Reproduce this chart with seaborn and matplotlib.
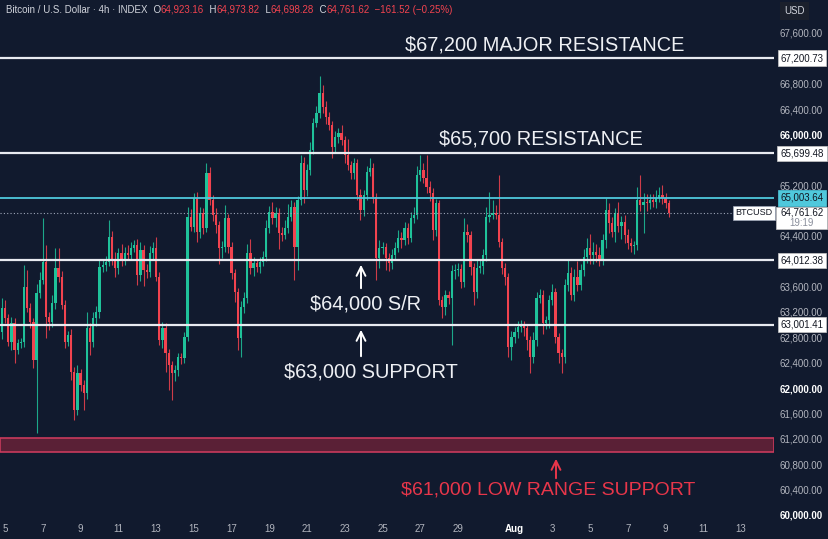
import matplotlib
matplotlib.use("Agg")
import matplotlib.pyplot as plt
import matplotlib.dates as mdates
from matplotlib.patches import Rectangle
from matplotlib.transforms import IdentityTransform
import seaborn as sns
import numpy as np
import pandas as pd

# BTCUSD 4h candles, Jul 4 20:00 -> Aug 9 04:00
first_open = 62880
closes = [
    63263, 63105, 62727, 63026, 62600, 62711, 62727, 63594, 63263, 63042,
    62443, 63499, 63704, 63988, 63121, 63042, 63342, 63894, 63752, 63310,
    62727, 62837, 62254, 61654, 62238, 62049, 61922, 62947, 62727, 63105,
    63200, 63909, 63941, 63988, 64383, 64020, 63894, 64130, 64020, 64130,
    64099, 64209, 64256, 63783, 64178, 63862, 63831, 64130, 64209, 63752,
    62758, 62947, 62553, 62364, 62238, 62285, 62490, 62474, 62805, 64698,
    64540, 64998, 64461, 64761, 64524, 65392, 64966, 64729, 64572, 64209,
    64225, 64682, 64225, 63815, 63515, 62790, 63279, 63421, 64130, 63894,
    63972, 63909, 63988, 64067, 64524, 64777, 64682, 64761, 64446, 64414,
    64524, 64698, 64856, 64225, 64966, 65550, 65124, 65439, 65755, 66180,
    66338, 66653, 66433, 66275, 66149, 65802, 65960, 66023, 65912, 65676,
    65518, 65392, 65550, 65045, 64808, 65045, 65408, 65471, 65013, 64051,
    64209, 64225, 64051, 63972, 64099, 64209, 64367, 64335, 64524, 64367,
    64682, 64729, 65360, 65439, 65313, 65171, 65076, 64493, 64919, 63389,
    63279, 63468, 63421, 63846, 63862, 63880, 63673, 64461, 64414, 63909,
    63515, 63894, 63925, 64099, 64698, 64729, 64761, 64729, 64304, 63894,
    63752, 62648, 62805, 62884, 62963, 62995, 62947, 62758, 62490, 62758,
    63421, 63468, 63026, 63074, 63389, 63515, 62805, 62553, 62490, 63626,
    63815, 63468, 63752, 63626, 63862, 64067, 64209, 64099, 64146, 64099,
    64020, 64335, 64808, 64603, 64461, 64761, 64556, 64619, 64414, 64288,
    64241, 64256, 64966, 64887, 64934, 64919, 64966, 64934, 64998, 65045,
    64998, 64923.16, 64761.62,
]
wick_up = [
    160, 120, 60, 100, 80, 60, 60, 350, 270, 80,
    60, 150, 120, 690, 270, 80, 120, 320, 320, 100,
    80, 60, 90, 80, 120, 60, 80, 250, 80, 90,
    100, 120, 80, 90, 270, 100, 120, 80, 150, 100,
    120, 100, 80, 100, 120, 80, 90, 110, 100, 170,
    80, 100, 80, 60, 60, 80, 70, 60, 80, 150,
    120, 80, 90, 100, 80, 160, 100, 80, 110, 60,
    90, 200, 60, 80, 70, 60, 90, 100, 150, 220,
    90, 60, 80, 100, 120, 90, 150, 100, 80, 100,
    120, 200, 110, 80, 60, 120, 100, 90, 120, 80,
    110, 270, 120, 100, 80, 60, 100, 80, 120, 60,
    250, 60, 80, 60, 100, 80, 100, 150, 80, 60,
    120, 80, 60, 80, 90, 100, 120, 90, 100, 80,
    90, 120, 150, 240, 110, 360, 100, 80, 60, 50,
    60, 80, 60, 100, 90, 100, 80, 220, 120, 60,
    60, 120, 100, 90, 150, 360, 200, 120, 630, 60,
    80, 70, 100, 80, 90, 80, 60, 70, 60, 120,
    90, 100, 80, 60, 80, 130, 60, 60, 60, 100,
    200, 90, 120, 250, 100, 120, 150, 220, 150, 120,
    130, 90, 190, 110, 100, 80, 170, 100, 110, 90,
    80, 60, 200, 400, 150, 120, 90, 100, 120, 130,
    160, 80, 50,
]
wick_dn = [
    100, 80, 60, 120, 200, 70, 80, 80, 60, 100,
    120, 1150, 80, 60, 330, 130, 80, 90, 80, 60,
    100, 70, 130, 160, 80, 100, 270, 90, 200, 80,
    120, 100, 80, 90, 70, 80, 150, 100, 90, 80,
    80, 60, 70, 160, 90, 250, 90, 80, 100, 60,
    80, 120, 300, 400, 430, 120, 90, 100, 80, 70,
    60, 80, 150, 90, 100, 60, 80, 90, 120, 250,
    150, 80, 90, 100, 150, 190, 300, 100, 80, 100,
    120, 80, 100, 70, 60, 80, 90, 140, 250, 90,
    70, 80, 60, 520, 360, 80, 200, 100, 80, 70,
    60, 80, 100, 110, 80, 180, 90, 100, 80, 120,
    80, 90, 100, 80, 160, 90, 80, 60, 100, 350,
    150, 90, 190, 120, 90, 80, 60, 120, 80, 90,
    70, 80, 60, 90, 80, 90, 120, 150, 100, 80,
    180, 120, 90, 740, 120, 100, 90, 80, 110, 120,
    200, 90, 80, 120, 90, 80, 70, 60, 80, 90,
    120, 160, 200, 100, 90, 80, 120, 150, 250, 90,
    100, 80, 180, 90, 120, 80, 100, 160, 250, 100,
    90, 80, 100, 90, 80, 90, 100, 150, 140, 110,
    100, 80, 120, 150, 80, 150, 100, 200, 120, 100,
    90, 120, 80, 100, 440, 120, 90, 80, 90, 60,
    90, 80, 63,
]

level_prices = [67200.73, 65699.48, 64012.38, 63001.41]
ema_price = 65003.64
last_price = 64761.62
zone_low, zone_high = 60990, 61215

price_ticks = [60000, 60400, 60800, 61200, 61600, 62000, 62400, 62800, 63200, 63600,
               64000, 64400, 64800, 65200, 65600, 66000, 66400, 66800, 67200, 67600]
hidden_ticks = [64000, 64800, 65600, 67200]   # sit under the level labels
bold_ticks = [60000, 62000, 66000]
day_ticks = ["2024-07-05", "2024-07-07", "2024-07-09", "2024-07-11", "2024-07-13",
             "2024-07-15", "2024-07-17", "2024-07-19", "2024-07-21", "2024-07-23",
             "2024-07-25", "2024-07-27", "2024-07-29", "2024-08-01", "2024-08-03",
             "2024-08-05", "2024-08-07", "2024-08-09", "2024-08-11", "2024-08-13"]
day_labels = ["5", "7", "9", "11", "13", "15", "17", "19", "21", "23", "25", "27", "29",
              "Aug", "3", "5", "7", "9", "11", "13"]

BG = "#111a2e"
UP = "#1fc29a"
DOWN = "#f2434f"
TICK = "#b2b5be"

sns.set_theme(style="dark", rc={"axes.facecolor": BG, "figure.facecolor": BG})
plt.rcParams["font.family"] = ["Liberation Sans", "DejaVu Sans"]

W, H = 829, 539
fig = plt.figure(figsize=(W / 100, H / 100), dpi=100)
ax = fig.add_axes([0, 22 / H, 774 / W, 517 / H])
ax.set_facecolor(BG)
for s in ax.spines.values():
    s.set_visible(False)
ax.grid(False)

c = np.array(closes, dtype=float)
o = np.concatenate([[first_open], c[:-1]])
hi = np.maximum(o, c) + np.array(wick_up)
lo = np.minimum(o, c) - np.array(wick_dn)
times = pd.date_range("2024-07-04 20:00", periods=len(c), freq="4h")
x = mdates.date2num(times)
cols = np.where(c >= o, UP, DOWN)

ax.vlines(x, lo, hi, colors=cols, linewidth=0.8, alpha=0.85, zorder=2)
ax.bar(x, np.maximum(np.abs(c - o), 12), bottom=np.minimum(o, c), width=0.72 / 6,
       color=cols, linewidth=0, zorder=2.2)

ax.set_xlim(x[0] - 0.64 / 6, x[0] + 245.5 / 6)
ax.set_ylim(59967, 68120)

# levels
ax.axhspan(zone_low, zone_high, facecolor="#5a2036", edgecolor="#c83a5c", lw=1.2, zorder=1)
for p in level_prices:
    ax.axhline(p, color="#e8eaf0", lw=1.6, zorder=3)
ax.axhline(ema_price, color="#4fc8dc", lw=1.3, zorder=3)
ax.axhline(last_price, xmax=736 / 774, color="#9ea6b8", lw=0.8, ls=(0, (1, 2)), zorder=3)

# price scale
ax.yaxis.tick_right()
ax.set_yticks(price_ticks)
ax.set_yticklabels(["" if p in hidden_ticks else f"{p:,.2f}" for p in price_ticks])
ax.tick_params(axis="y", length=0, pad=35, labelsize=7, labelcolor=TICK)
for lbl, p in zip(ax.get_yticklabels(), price_ticks):
    lbl.set_horizontalalignment("right")
    if p in bold_ticks:
        lbl.set_fontweight("bold")
        lbl.set_color("white")

ax.set_xticks(mdates.date2num(pd.to_datetime(day_ticks)))
ax.set_xticklabels(day_labels)
ax.tick_params(axis="x", length=0, pad=5, labelsize=7, labelcolor=TICK)
for lbl in ax.get_xticklabels():
    if lbl.get_text() == "Aug":
        lbl.set_fontweight("bold")
        lbl.set_color("white")

ytr = ax.get_yaxis_transform()
box_x = 802 / 774
for p in level_prices:
    ax.text(box_x, p, f"{p:,.2f}", transform=ytr, ha="center", va="center", fontsize=7,
            color="#131722", clip_on=False, zorder=5,
            bbox=dict(boxstyle="square,pad=0.3", fc="white", ec="#c8c8c8", lw=0.5))
ax.text(box_x, ema_price, f"{ema_price:,.2f}", transform=ytr, ha="center", va="center",
        fontsize=7, color="#131722", clip_on=False, zorder=5,
        bbox=dict(boxstyle="square,pad=0.3", fc="#4fc8dc", ec="#4fc8dc", lw=0.5))

# current price label: value + countdown in one white box
ax.add_artist(Rectangle((776, H - 229), 51, 22, transform=IdentityTransform(), fc="white",
                        ec="#c8c8c8", lw=0.5, zorder=4, clip_on=False))
ax.annotate(f"{last_price:,.2f}", xy=(box_x, last_price), xycoords=ytr, xytext=(0, 0),
            textcoords="offset points", ha="center", va="center", fontsize=7,
            color="#131722", annotation_clip=False, zorder=6)
ax.annotate("19:19", xy=(box_x, last_price), xycoords=ytr, xytext=(0, -7.5),
            textcoords="offset points", ha="center", va="center", fontsize=7,
            color="#8a8f9c", annotation_clip=False, zorder=6)
ax.text(754 / 774, last_price, "BTCUSD", transform=ytr, ha="center", va="center",
        fontsize=6.5, color="#131722", clip_on=False, zorder=5,
        bbox=dict(boxstyle="square,pad=0.3", fc="white", ec="#9ea6b8", lw=0.5))

fig.text(784 / W, 1 - 11 / H, "USD", ha="left", va="center", fontsize=7, color="#d1d4dc",
         bbox=dict(boxstyle="square,pad=0.45", fc="#1b202c", ec="none"))


def fp(px, py):
    return (px, H - py)


# header line with OHLC values
prev = fig.text(6 / W, 1 - 15 / H, "Bitcoin / U.S. Dollar · 4h · INDEX", ha="left",
                va="bottom", fontsize=7, color="#d1d4dc")
header = [("  O", "#d1d4dc"), ("64,923.16", DOWN), ("  H", "#d1d4dc"), ("64,973.82", DOWN),
          ("  L", "#d1d4dc"), ("64,698.28", DOWN), ("  C", "#d1d4dc"), ("64,761.62", DOWN),
          ("  −161.52 (−0.25%)", DOWN)]
for s, col in header:
    prev = ax.annotate(s, xy=(1, 0), xycoords=prev, va="bottom", ha="left", fontsize=7,
                       color=col, annotation_clip=False)

# callouts
txt_kw = dict(ha="center", va="center", fontsize=14.4, color="#eef0f4")
fig.text(*np.divide(fp(545, 45), (W, H)), "$67,200 MAJOR RESISTANCE", **txt_kw)
fig.text(*np.divide(fp(541, 139), (W, H)), "$65,700 RESISTANCE", **txt_kw)
fig.text(*np.divide(fp(366, 304), (W, H)), "$64,000 S/R", **txt_kw)
fig.text(*np.divide(fp(371, 372), (W, H)), "$63,000 SUPPORT", **txt_kw)
fig.text(*np.divide(fp(548, 490), (W, H)), "$61,000 LOW RANGE SUPPORT",
         ha="center", va="center", fontsize=14, color="#e8364a")

arrow_kw = dict(xycoords="figure pixels", textcoords="figure pixels", annotation_clip=False)
ax.annotate("", xy=fp(361, 262), xytext=fp(361, 291),
            arrowprops=dict(arrowstyle="->", color="white", lw=1.4, mutation_scale=16), **arrow_kw)
ax.annotate("", xy=fp(361, 327), xytext=fp(361, 359),
            arrowprops=dict(arrowstyle="->", color="white", lw=1.4, mutation_scale=16), **arrow_kw)
ax.annotate("", xy=fp(556, 456), xytext=fp(556, 481),
            arrowprops=dict(arrowstyle="->", color="#e8364a", lw=1.4, mutation_scale=16), **arrow_kw)

fig.savefig("out.png", dpi=100, facecolor=BG)
